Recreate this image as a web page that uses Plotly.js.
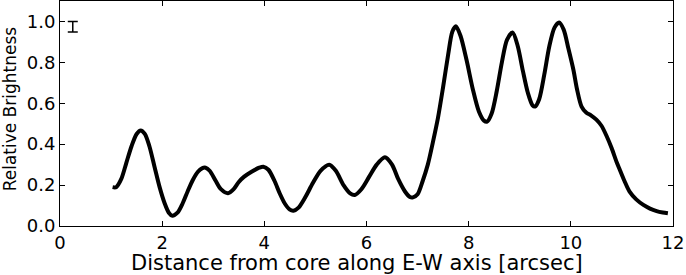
<!DOCTYPE html>
<html>
<head>
<meta charset="utf-8">
<script src="https://cdn.plot.ly/plotly-3.0.1.min.js"></script>
<style>html,body{margin:0;padding:0;background:#fff;}#chart{width:686px;height:275px;}</style>
</head>
<body>
<div id="chart"></div>
<script>
const distance = [1.03, 1.10, 1.20, 1.30, 1.40, 1.50, 1.58, 1.66, 1.75, 1.85, 1.95, 2.05, 2.13, 2.20, 2.30, 2.40, 2.50, 2.60, 2.70, 2.78, 2.85, 2.93, 3.05, 3.15, 3.29, 3.40, 3.50, 3.60, 3.75, 3.90, 3.98, 4.08, 4.20, 4.30, 4.40, 4.50, 4.57, 4.67, 4.80, 4.95, 5.10, 5.27, 5.40, 5.55, 5.68, 5.77, 5.90, 6.05, 6.20, 6.36, 6.50, 6.62, 6.75, 6.85, 6.91, 7.00, 7.10, 7.20, 7.30, 7.40, 7.50, 7.60, 7.68, 7.75, 7.84, 7.96, 8.08, 8.20, 8.30, 8.36, 8.45, 8.55, 8.65, 8.75, 8.86, 8.96, 9.06, 9.16, 9.25, 9.30, 9.38, 9.48, 9.58, 9.68, 9.77, 9.86, 9.95, 10.05, 10.12, 10.21, 10.30, 10.40, 10.50, 10.60, 10.70, 10.80, 10.90, 10.96, 11.05, 11.15, 11.28, 11.42, 11.55, 11.68, 11.80, 11.90];
const brightness = [0.19, 0.19, 0.23, 0.31, 0.39, 0.45, 0.467, 0.45, 0.39, 0.29, 0.19, 0.11, 0.065, 0.05, 0.065, 0.11, 0.17, 0.225, 0.265, 0.282, 0.285, 0.27, 0.22, 0.18, 0.16, 0.18, 0.215, 0.24, 0.265, 0.285, 0.29, 0.275, 0.22, 0.16, 0.11, 0.08, 0.075, 0.09, 0.14, 0.21, 0.27, 0.30, 0.27, 0.20, 0.16, 0.152, 0.18, 0.24, 0.30, 0.336, 0.30, 0.23, 0.17, 0.142, 0.14, 0.155, 0.22, 0.30, 0.41, 0.53, 0.68, 0.84, 0.95, 0.976, 0.93, 0.81, 0.67, 0.56, 0.515, 0.51, 0.55, 0.66, 0.80, 0.91, 0.946, 0.88, 0.76, 0.65, 0.59, 0.584, 0.62, 0.74, 0.88, 0.97, 0.995, 0.96, 0.87, 0.764, 0.67, 0.584, 0.555, 0.54, 0.52, 0.49, 0.44, 0.38, 0.31, 0.274, 0.22, 0.168, 0.13, 0.103, 0.085, 0.073, 0.066, 0.062];
const errX = [0.25];
const errY = [0.974];
const errSize = [0.026];
const xTicks = [0, 2, 4, 6, 8, 10, 12];
const yTicks = [0.0, 0.2, 0.4, 0.6, 0.8, 1.0];
const xTitle = 'Distance from core along E-W axis [arcsec]';
const yTitle = 'Relative Brightness';

const font = "DejaVu Sans";
const traces = [
  {x: distance, y: brightness, mode: 'lines', line: {color: '#000', width: 4, shape: 'spline', smoothing: 0.8}, hoverinfo: 'skip'},
  {x: errX, y: errY, mode: 'markers', marker: {size: 0.1, color: '#000'},
   error_y: {type: 'data', array: errSize, visible: true, color: '#000', thickness: 1.5, width: 5}}
];
const axisCommon = {
  showgrid: false, zeroline: false, showline: true, linecolor: '#000', linewidth: 1,
  mirror: 'ticks', ticks: 'inside', ticklen: 5, tickcolor: '#000', tickwidth: 1,
  tickfont: {family: font, size: 18, color: '#000'}
};
const layout = {
  width: 686, height: 275,
  margin: {l: 60, r: 13, t: 1, b: 49},
  paper_bgcolor: '#fff', plot_bgcolor: '#fff',
  showlegend: false,
  xaxis: Object.assign({}, axisCommon, {
    range: [0, 12], tickvals: xTicks, ticktext: xTicks.map(String)
  }),
  yaxis: Object.assign({}, axisCommon, {
    range: [0, 1.1], tickvals: yTicks, ticktext: yTicks.map(v => v.toFixed(1)),
    ticklabelstandoff: 0
  }),
  annotations: [
    {text: xTitle, xref: 'paper', yref: 'paper', x: 0.485, y: -0.164, xanchor: 'center', yanchor: 'middle',
     showarrow: false, font: {family: font, size: 21, color: '#000'}},
    {text: yTitle, xref: 'paper', yref: 'paper', x: -0.081, y: 0.52, xanchor: 'center', yanchor: 'middle',
     textangle: -90, showarrow: false, font: {family: font, size: 17, color: '#000'}}
  ]
};
Plotly.newPlot('chart', traces, layout, {displayModeBar: false, staticPlot: true});
</script>
</body>
</html>
